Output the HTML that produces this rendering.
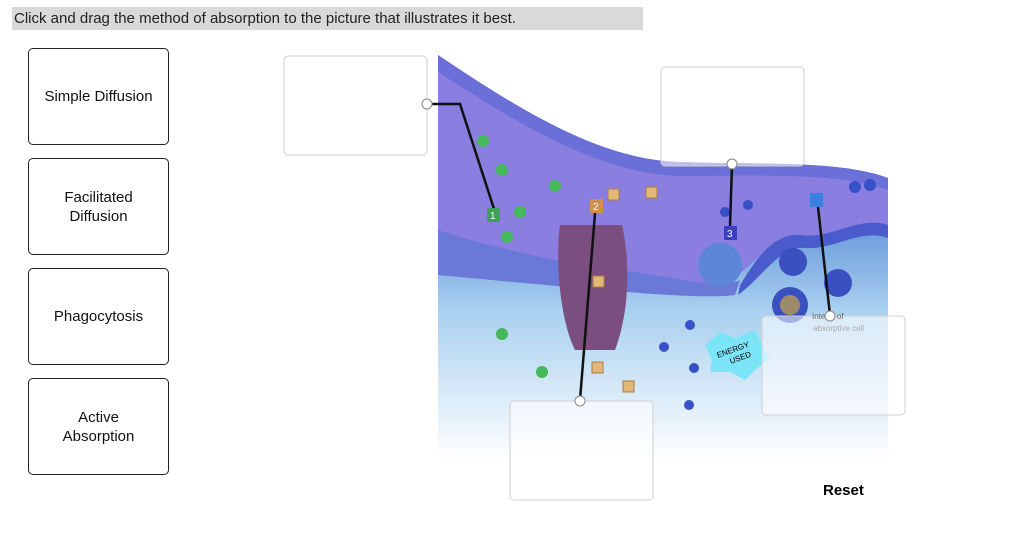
<!DOCTYPE html>
<html><head><style>
body{margin:0;width:1024px;height:533px;background:#fff;font-family:"Liberation Sans",sans-serif;position:relative;overflow:hidden}
.title{position:absolute;left:12px;top:7px;width:629px;height:23px;background:#d9d9d9;font-size:15px;line-height:23px;padding-left:2px;color:#222}
.opt{position:absolute;left:28px;width:141px;height:97px;border:1.5px solid #222;border-radius:5px;display:flex;align-items:center;justify-content:center;text-align:center;font-size:15px;color:#111;box-sizing:border-box;line-height:19px}
.reset{position:absolute;left:823px;top:482px;font-weight:bold;font-size:15px}
</style></head><body>
<div class="title">Click and drag the method of absorption to the picture that illustrates it best.</div>
<div class="opt" style="top:48px">Simple Diffusion</div>
<div class="opt" style="top:158px">Facilitated<br>Diffusion</div>
<div class="opt" style="top:268px">Phagocytosis</div>
<div class="opt" style="top:378px">Active<br>Absorption</div>
<svg width="1024" height="533" style="position:absolute;left:0;top:0">
<defs>
<linearGradient id="bg" x1="0" y1="0" x2="0" y2="1"><stop offset="0" stop-color="#5d8fd6"/><stop offset="0.4" stop-color="#a8d0ef"/><stop offset="1" stop-color="#ffffff"/></linearGradient>
</defs>
<path d="M438,210 L888,210 L888,460 L438,460 Z" fill="url(#bg)"/>
<path d="M438,55 C520,110 600,160 680,162 C760,165 840,160 888,178 L888,225 C860,215 830,240 800,235 C770,232 740,290 700,292 L600,290 C540,280 470,275 438,270 Z" fill="#8a7fe0"/>
<path d="M438,55 C520,110 600,160 680,162 C760,165 840,160 888,178 L888,190 C840,172 760,176 680,176 C600,174 520,125 438,72 Z" fill="#6a70d8"/>
<path d="M438,230 C500,250 560,262 620,270 C680,278 720,290 740,280 L735,295 C700,300 600,290 438,275 Z" fill="#6a78d8"/>
<path d="M888,225 C860,215 830,240 800,235 C770,232 750,270 740,285 L738,295 C760,280 780,245 805,248 C835,250 860,228 888,238 Z" fill="#4a5ccc"/>
<path d="M560,225 C555,260 560,320 575,350 L615,350 C630,310 630,260 622,225 Z" fill="#7a4e7e"/>
<g fill="#45b85a"><circle cx="483" cy="141" r="6"/><circle cx="502" cy="170" r="6"/><circle cx="555" cy="186" r="6"/><circle cx="520" cy="212" r="6"/><circle cx="507" cy="237" r="6"/><circle cx="502" cy="334" r="6"/><circle cx="542" cy="372" r="6"/></g>
<g fill="#e2b878" stroke="#a87a40"><rect x="608" y="189" width="11" height="11"/><rect x="646" y="187" width="11" height="11"/><rect x="593" y="276" width="11" height="11"/><rect x="592" y="362" width="11" height="11"/><rect x="623" y="381" width="11" height="11"/></g>
<circle cx="720" cy="265" r="22" fill="#5d86d8"/>
<circle cx="793" cy="262" r="14" fill="#3a50c0"/><circle cx="838" cy="283" r="14" fill="#3a50c0"/><circle cx="790" cy="305" r="18" fill="#3a50c0"/><circle cx="790" cy="305" r="10" fill="#9c8a6a"/>
<g fill="#3850c8"><circle cx="690" cy="325" r="5"/><circle cx="664" cy="347" r="5"/><circle cx="694" cy="368" r="5"/><circle cx="689" cy="405" r="5"/><circle cx="725" cy="212" r="5"/><circle cx="748" cy="205" r="5"/><circle cx="855" cy="187" r="6"/><circle cx="870" cy="185" r="6"/></g>
<polygon points="705,345 720,332 735,338 755,330 762,345 770,358 755,370 745,380 730,372 710,372 712,360" fill="#7be4f6"/>
<text x="718" y="352" font-size="8" transform="rotate(-20 735 355)">ENERGY</text><text x="728" y="362" font-size="8" transform="rotate(-20 735 355)">USED</text>
<g fill="#fff" fill-opacity="0.55" stroke="#cfcfcf"><rect x="284" y="56" width="143" height="99" rx="4" fill="#fff" fill-opacity="1"/><rect x="661" y="67" width="143" height="99" rx="4"/><rect x="510" y="401" width="143" height="99" rx="4"/><rect x="762" y="316" width="143" height="99" rx="4"/></g>
<text x="812" y="319" font-size="8" fill="#666">Inte  or of</text><text x="813" y="331" font-size="8" fill="#aaa">absorptive cell</text>
<g stroke="#111" stroke-width="2.5" fill="none"><polyline points="427,104 460,104 495,212"/><line x1="596" y1="201" x2="580" y2="400"/><line x1="732" y1="164" x2="730" y2="226"/><line x1="817" y1="198" x2="830" y2="315"/></g>
<g stroke="#888" fill="#fff"><circle cx="427" cy="104" r="5"/><circle cx="732" cy="164" r="5"/><circle cx="580" cy="401" r="5"/><circle cx="830" cy="316" r="5"/></g>
<rect x="487" y="208" width="13" height="14" fill="#3aa05a"/><text x="490" y="219" font-size="10" fill="#fff">1</text>
<rect x="590" y="199" width="13" height="14" fill="#d09050"/><text x="593" y="210" font-size="10" fill="#fff">2</text>
<rect x="724" y="226" width="13" height="14" fill="#3a40c0"/><text x="727" y="237" font-size="10" fill="#fff">3</text>
<rect x="810" y="193" width="13" height="14" fill="#3a80e0"/>
</svg>
<div class="reset">Reset</div>
</body></html>
